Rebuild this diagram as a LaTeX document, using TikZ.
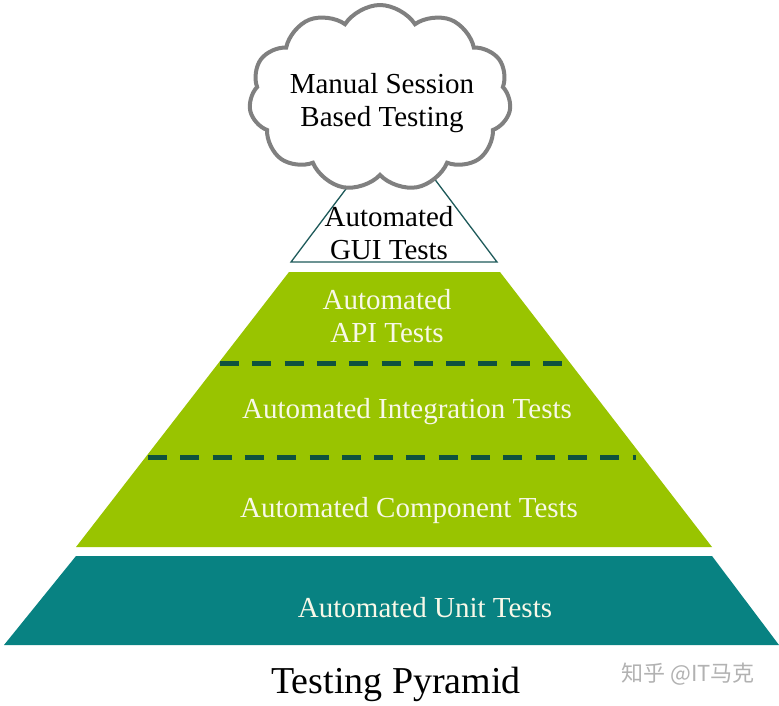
\documentclass[tikz,border=0pt]{standalone}
\usepackage{fontspec}
\setmainfont{Liberation Serif}
\newfontfamily\cjkfont{Noto Sans CJK SC}
\usetikzlibrary{shapes.symbols}
\definecolor{pgreen}{RGB}{153,196,0}
\definecolor{pteal}{RGB}{8,130,130}
\definecolor{pdash}{RGB}{15,82,62}
\definecolor{pedge}{RGB}{30,90,90}
\definecolor{cream}{RGB}{248,248,232}
\definecolor{cloudgray}{RGB}{128,128,128}
\tikzset{
  lbl/.style={font=\fontsize{29}{33}\selectfont, align=center, inner sep=0pt},
  lightlbl/.style={lbl, text=cream},
  divider/.style={pdash, line width=5pt, dash pattern=on 19pt off 13.3pt},
}
\begin{document}
\begin{tikzpicture}[x=1pt,y=-1pt]
\useasboundingbox (0,0) rectangle (779,705);
\fill[white] (0,0) rectangle (779,705);
% teal base
\fill[pteal] (76,556) -- (712,556) -- (779,645) -- (4,645) -- cycle;
% green trapezoid
\fill[pgreen] (289,272) -- (500,272) -- (712,547) -- (76,547) -- cycle;
\draw[divider] (220,363) -- (568,363);
\draw[divider] (148,457) -- (636,457);
% GUI triangle
\draw[pedge, fill=white, line width=1.3pt] (291,262) -- (394,125) -- (497,262) -- cycle;
% cloud
\node[cloud, draw=cloudgray, fill=white, line width=4pt, cloud puffs=11, cloud puff arc=115, aspect=1.4, minimum width=262pt, minimum height=186pt, inner sep=0pt] (cloud) at (380,98) {};
\node[lbl] (manual) at (382,103) {Manual Session\\Based Testing};
\node[lbl] (gui) at (389,233) {Automated\\GUI Tests};
\node[lightlbl] (api) at (387,316) {Automated\\API Tests};
\node[lightlbl] (integ) at (407,412) {Automated Integration Tests};
\node[lightlbl] (comp) at (409,511) {Automated Component Tests};
\node[lightlbl] (unit) at (425,608) {Automated Unit Tests};
\node[lbl, font=\fontsize{38}{40}\selectfont] (title) at (396,684) {Testing Pyramid};
\node[inner sep=0pt, text=black!30, font=\cjkfont\fontsize{22}{24}\selectfont] (wm) at (688,674) {知乎 @IT马克};
\end{tikzpicture}
\end{document}
